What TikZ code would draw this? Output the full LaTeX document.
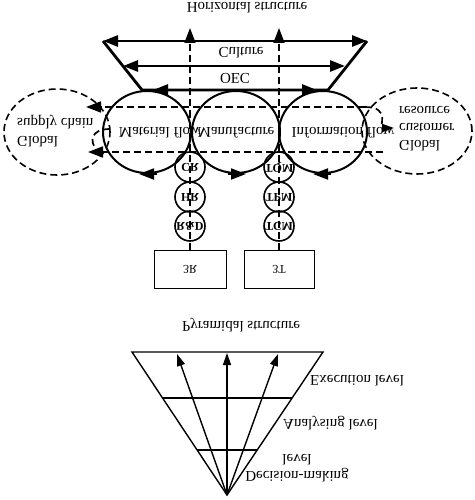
\documentclass[tikz,border=0pt]{standalone}
\usepackage{fontspec}
\setmainfont{Liberation Serif}
\usepackage{tikz}
\usetikzlibrary{calc}
\usetikzlibrary{arrows.meta}
\usetikzlibrary{shapes.geometric}

\tikzset{
	flip/.style={yscale=-1, inner sep=1pt, font=\fontsize{15}{17.5}\selectfont},
	tooltext/.style={yscale=-1, inner sep=0pt, font=\bfseries\fontsize{12}{13}\selectfont},
	bigtip/.tip={Triangle[length=15pt, width=11pt]},
	smalltip/.tip={Triangle[length=12pt, width=8pt]},
	flowcircle/.style={draw, ellipse, line width=2pt, minimum width=88pt, minimum height=82pt, inner sep=0pt},
	outercloud/.style={draw, ellipse, line width=1.6pt, dash pattern=on 7pt off 4pt, inner sep=0pt},
	toolcircle/.style={draw, circle, line width=1.6pt, minimum size=30pt, inner sep=0pt},
	levelbox/.style={draw, line width=1pt, minimum height=38pt, inner sep=0pt},
	linkline/.style={line width=1.7pt, dash pattern=on 7pt off 4pt},
	thickbar/.style={line width=2.8pt}
}

\begin{document}
\begin{tikzpicture}[x=1pt, y=-1pt]
	\useasboundingbox (0,0) rectangle (474,500);

	% horizontal structure
	\node[flip] (htitle) at (247,8) {Horizontal structure};

	\coordinate (TL) at (103,41);
	\coordinate (TR) at (367,41);
	\coordinate (BL) at (142,90);
	\coordinate (BR) at (328,90);
	\coordinate (CL) at (123,66);
	\coordinate (CR) at (345,66);
	\coordinate (BM) at (236,90);
	\coordinate (BLa) at (153,90);
	\coordinate (BRa) at (317,90);

	\draw[thickbar, {bigtip}-{bigtip}] (TL) -- (TR);
	\draw[thickbar] (TL) -- (BL) -- (BR) -- (TR);
	\draw[thickbar, {bigtip}-{bigtip}] (CL) -- (CR);
	\draw[thickbar, -{bigtip}] (BM) -- (BLa);
	\draw[thickbar, -{bigtip}] (BM) -- (BRa);

	\node[flip] (culture) at (241,53) {Culture};
	\node[flip] (oec) at (235,78) {OEC};

	% global partners
	\node[outercloud, minimum width=106pt, minimum height=86pt] (gsc) at (57,132) {};
	\node[outercloud, minimum width=110pt, minimum height=86pt] (gcr) at (417,131) {};
	\node[flip, align=left, anchor=west] (gsctext) at (16,131) {Global\\supply chain};
	\node[flip, align=left, anchor=west, font=\fontsize{15}{17}\selectfont] (gcrtext) at (398,129) {Global\\customer\\resource};

	% the three flows
	\node[flowcircle] (matflow) at (147,132) {};
	\node[flowcircle] (manuf) at (236,132) {};
	\node[flowcircle] (infoflow) at (323,132) {};

	\draw[line width=2pt, -{bigtip}] ($(matflow.south)+(10,0)$) -- ($(matflow.south)+(-8,0)$);
	\draw[line width=2pt, -{bigtip}] ($(manuf.south)+(-8,0)$) -- ($(manuf.south)+(10,0)$);
	\draw[line width=2pt, -{bigtip}] ($(infoflow.south)+(8,0)$) -- ($(infoflow.south)+(-10,0)$);

	\node[flip] (mattext) at (160,133) {Material flow};
	\node[flip] (manutext) at (236,133) {Manufacture};
	\node[flip] (infotext) at (343,133) {Information flow};

	% dashed links
	\coordinate (topR) at (365,107);
	\coordinate (topL) at (86,107);
	\coordinate (botR) at (383,152);
	\coordinate (botL) at (88,152);
	\coordinate (arcL) at (110,129);
	\coordinate (arcLend) at (96,149);
	\coordinate (arcRend) at (394,128);

	\draw[linkline, -{bigtip}] (topR) -- (topL);
	\draw[linkline, -{bigtip}] (botR) -- (botL);
	\draw[linkline] (arcL) .. controls (90,129) and (90,142) .. (arcLend);
	\draw[linkline, -{smalltip}] (topR) .. controls (392,107) and (378,128) .. (arcRend);

	% supporting functions
	\node[toolcircle, label={[tooltext]center:CR}] (cr) at (190,167) {};
	\node[toolcircle, label={[tooltext]center:HR}] (hr) at (190,197) {};
	\node[toolcircle, label={[tooltext]center:R\&D}] (rd) at (190,226) {};
	\node[toolcircle, label={[tooltext]center:TQM}] (tqm) at (279,167) {};
	\node[toolcircle, label={[tooltext]center:TPM}] (tpm) at (279,197) {};
	\node[toolcircle, label={[tooltext]center:TCM}] (tcm) at (279,226) {};

	\node[levelbox, minimum width=72pt, label={[flip, font=\fontsize{12}{14}\selectfont]center:3R}] (threer) at (190,269) {};
	\node[levelbox, minimum width=70pt, label={[flip, font=\fontsize{12}{14}\selectfont]center:3T}] (threet) at (279,269) {};

	\coordinate (rtop) at (190,28);
	\coordinate (ttop) at (279,28);
	\draw[linkline, -{bigtip}] (threer.north) -- (rtop);
	\draw[linkline, -{bigtip}] (threet.north) -- (ttop);

	% pyramidal structure
	\node[flip] (ptitle) at (241,325) {Pyramidal structure};

	\coordinate (apex) at (227,495);
	\coordinate (ptl) at (132,352);
	\coordinate (ptr) at (323,352);
	\coordinate (pleft) at (177,354);
	\coordinate (pmid) at (227,353);
	\coordinate (pright) at (278,354);

	\draw[line width=1.4pt] (ptl) -- (ptr) -- (apex) -- cycle;
	\draw[line width=1.4pt] ($(apex)!0.678!(ptl)$) -- ($(apex)!0.678!(ptr)$);
	\draw[line width=1.4pt] ($(apex)!0.315!(ptl)$) -- ($(apex)!0.315!(ptr)$);

	\draw[line width=1.4pt, -{smalltip}] (apex) -- (pleft);
	\draw[line width=1.4pt, -{smalltip}] (apex) -- (pmid);
	\draw[line width=1.4pt, -{smalltip}] (apex) -- (pright);

	\node[flip, anchor=west] (exec) at (309,381) {Execution level};
	\node[flip, anchor=west] (analys) at (282,423) {Analysing level};
	\node[flip, align=center] (decis) at (297,468) {Decision-making\\level};

\end{tikzpicture}
\end{document}
